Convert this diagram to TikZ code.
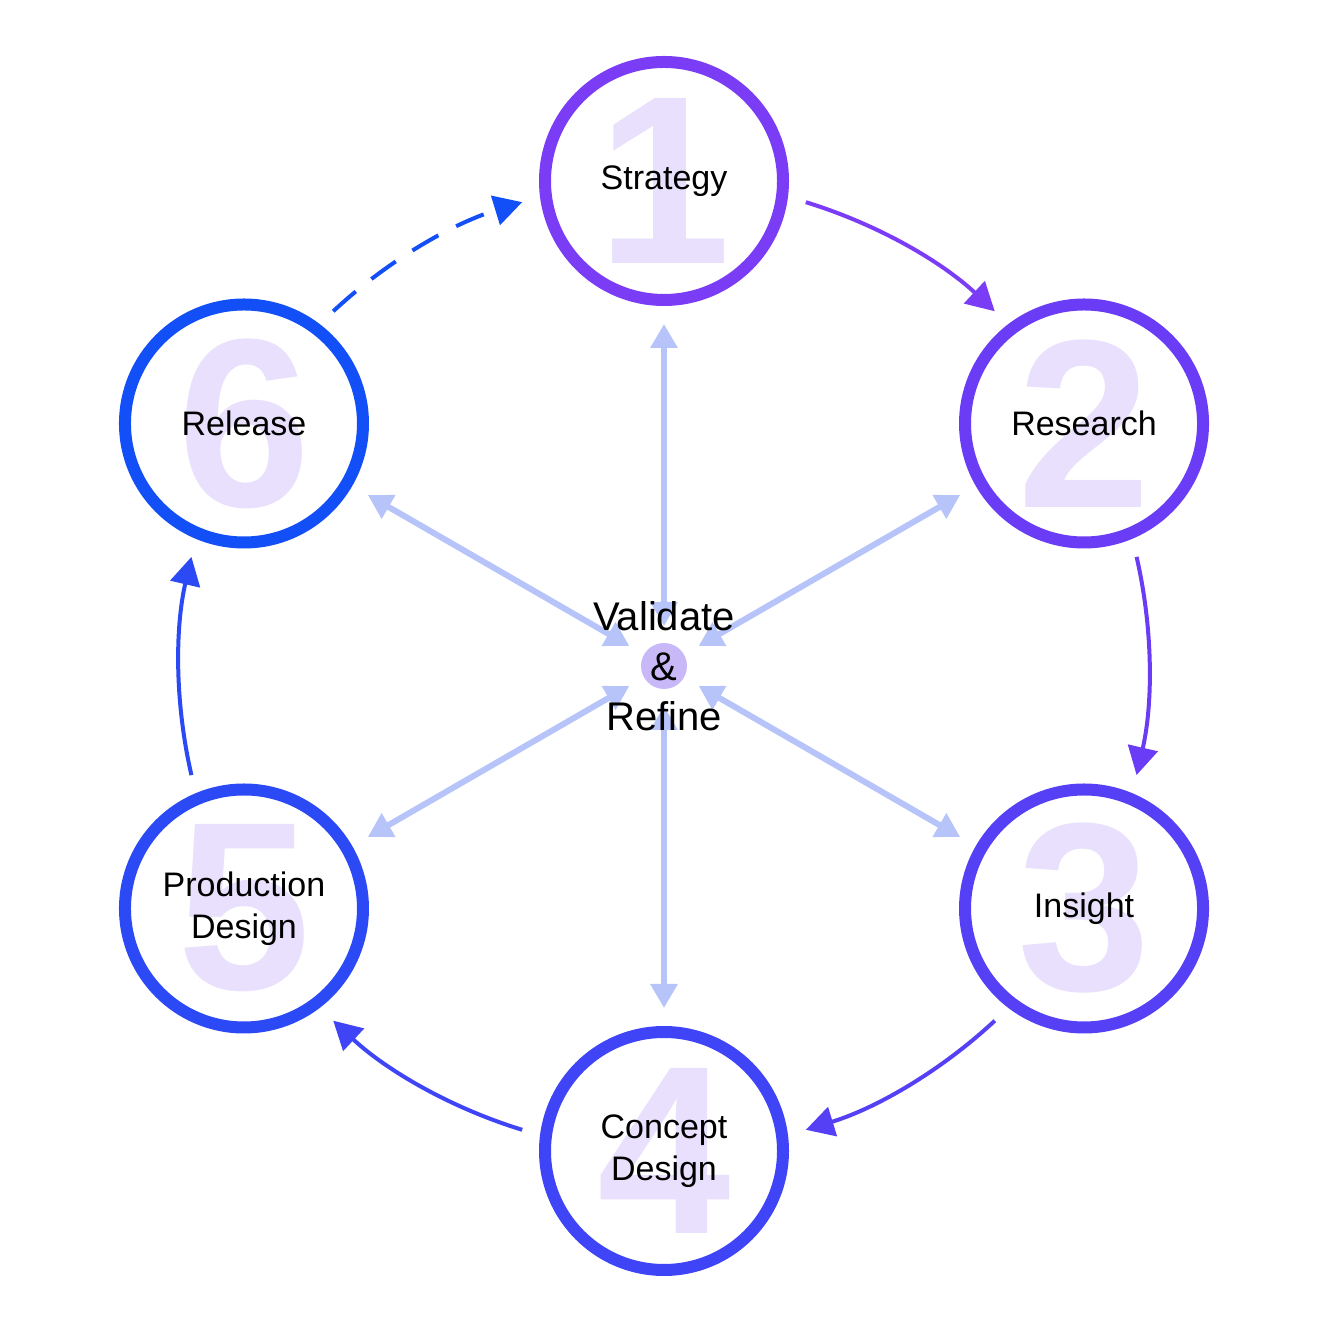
\documentclass[tikz,border=0pt]{standalone}
\usepackage{fontspec}
\setmainfont{Liberation Sans}
\usetikzlibrary{arrows.meta,calc}
\definecolor{cA}{HTML}{7B3CF6}
\definecolor{cB}{HTML}{6A3CF6}
\definecolor{cC}{HTML}{5640F6}
\definecolor{cD}{HTML}{3F45F6}
\definecolor{cE}{HTML}{2C49F6}
\definecolor{cF}{HTML}{124FF6}
\definecolor{numc}{HTML}{E8E0FC}
\definecolor{spoke}{HTML}{B6C4FA}
\definecolor{hub}{HTML}{C9B8F8}
\begin{document}
\begin{tikzpicture}[x=1pt,y=1pt,
  ring/.style={circle,draw,line width=12pt,minimum size=238pt,inner sep=0pt,fill=white},
  num/.style={text=numc,font=\bfseries\fontsize{240}{240}\selectfont},
  lab/.style={font=\fontsize{34}{42}\selectfont,align=center},
  arr/.style={line width=4pt,-{Triangle[length=28pt,width=30pt]}},
  sp/.style={line width=6pt,spoke,{Triangle[length=24pt,width=26pt]}-{Triangle[length=24pt,width=26pt]}}]
\useasboundingbox (0,0) rectangle (1328,1328);
\coordinate (c) at (664,662);
\foreach \i/\a/\col in {1/90/cA,2/30/cB,3/-30/cC,4/-90/cD,5/-150/cE,6/150/cF}{
  \node[ring,draw=\col] (n\i) at ($(c)+(\a:485)$) {};
  \node[num] (m\i) at (n\i) {\i};
}
\node[lab] (t1) at (n1) {Strategy};
\node[lab] (t2) at (n2) {Research};
\node[lab] (t3) at (n3) {Insight};
\node[lab] (t4) at (n4) {Concept\\Design};
\node[lab] (t5) at (n5) {Production\\Design};
\node[lab] (t6) at (n6) {Release};
\node[circle,fill=hub,minimum size=46pt,inner sep=0pt] (hub) at (c) {};
\foreach \a in {90,30,-30,-90,-150,150}{
  \coordinate (s\a) at ($(c)+(\a:40)$);
  \coordinate (e\a) at ($(c)+(\a:342)$);
  \draw[sp] (s\a) -- (e\a);
}
\node[font=\fontsize{40}{50}\selectfont,align=center] (v) at (c) {Validate\\\&\\Refine};
\draw[arr,cA] ($(c)+(73:485)$) arc[start angle=73,end angle=47,radius=485];
\draw[arr,cB] ($(c)+(13:485)$) arc[start angle=13,end angle=-13,radius=485];
\draw[arr,cC] ($(c)+(-47:485)$) arc[start angle=-47,end angle=-73,radius=485];
\draw[arr,cD] ($(c)+(-107:485)$) arc[start angle=-107,end angle=-133,radius=485];
\draw[arr,cE] ($(c)+(-167:485)$) arc[start angle=-167,end angle=-193,radius=485];
\draw[arr,cF,dash pattern=on 30pt off 20pt] ($(c)+(133:485)$) arc[start angle=133,end angle=107,radius=485];
\end{tikzpicture}
\end{document}
